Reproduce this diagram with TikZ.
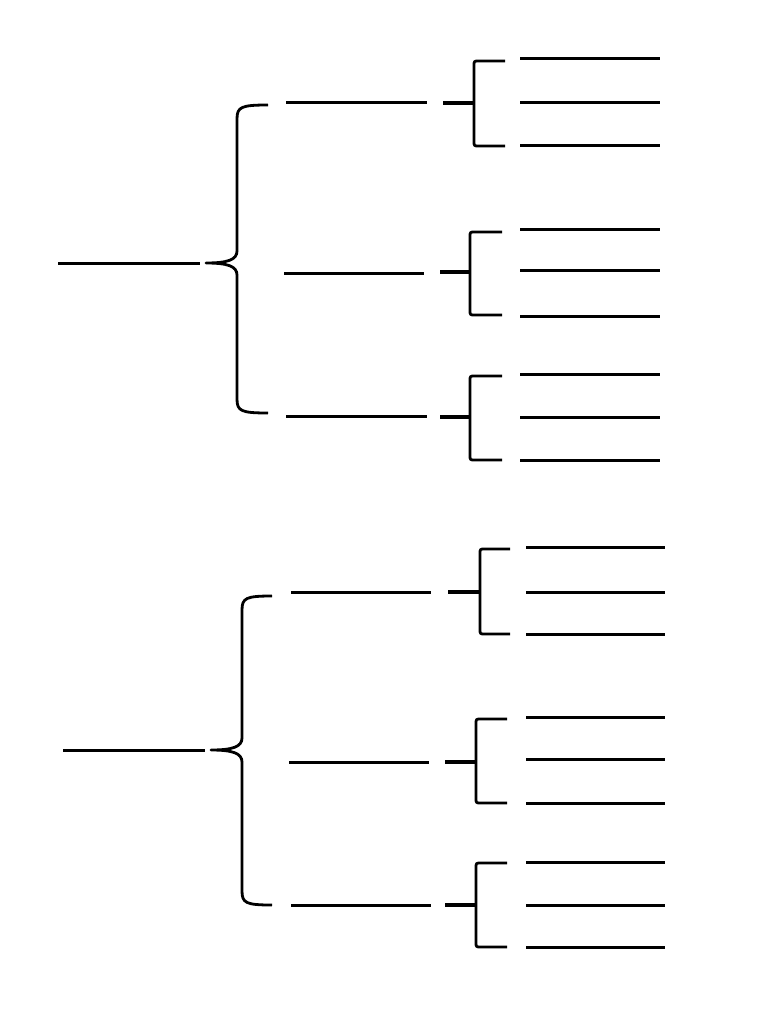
\documentclass[tikz,border=0pt]{standalone}
\tikzset{ln/.style={line width=3pt,line cap=butt},
  br/.style={line width=2.8pt,line join=round},
  stem/.style={line width=3.4pt}}
% big brace: #1 V, #2 T, #3 M, #4 B, #5 arm end x, #6 tip x
\newcommand\bigbr[6]{%
  \draw[br] (#5,#2) .. controls (#1+4,#2) and (#1,#2+2) .. (#1,#2+14) -- (#1,#3-12)
    .. controls (#1,#3-3) and (#1-10,#3) .. (#6,#3) .. controls (#1-10,#3) and (#1,#3+3) .. (#1,#3+12)
    -- (#1,#4-14) .. controls (#1,#4-2) and (#1+4,#4) .. (#5,#4);}
% small brace: #1 V, #2 T, #3 M, #4 B, #5 arm end x, #6 tip x
\newcommand\smbr[6]{%
  \draw[br] (#5,#2) -- (#1+5,#2) .. controls (#1,#2) .. (#1,#2+5) -- (#1,#4-5)
    .. controls (#1,#4) .. (#1+5,#4) -- (#5,#4);
  \draw[stem] (#6,#3) -- (#1,#3);}
\begin{document}
\begin{tikzpicture}[x=1pt,y=-1pt]
\useasboundingbox (0,0) rectangle (768,1024);
% ---------- top group ----------
\coordinate (r1) at (58,263); \coordinate (r1e) at (200,263);
\draw[ln] (r1) -- (r1e);
\bigbr{237}{105}{263}{413}{268}{206}
\coordinate (m1) at (286,103); \coordinate (m1e) at (427,103);
\coordinate (m2) at (284,273); \coordinate (m2e) at (424,273);
\coordinate (m3) at (286,416); \coordinate (m3e) at (427,416);
\draw[ln] (m1) -- (m1e); \draw[ln] (m2) -- (m2e); \draw[ln] (m3) -- (m3e);
\smbr{474}{61}{103}{146}{505}{443}
\smbr{470}{232}{272}{315}{502}{440}
\smbr{470}{376}{417}{460}{502}{440}
\foreach \y in {59,103,146,230,270,316,374,417,460}
  \draw[ln] (520,\y) -- (660,\y);
% ---------- bottom group ----------
\coordinate (r2) at (63,750); \coordinate (r2e) at (205,750);
\draw[ln] (r2) -- (r2e);
\bigbr{242}{596}{750}{905}{272}{211}
\coordinate (n1) at (291,592); \coordinate (n1e) at (431,592);
\coordinate (n2) at (289,762); \coordinate (n2e) at (429,762);
\coordinate (n3) at (291,905); \coordinate (n3e) at (431,905);
\draw[ln] (n1) -- (n1e); \draw[ln] (n2) -- (n2e); \draw[ln] (n3) -- (n3e);
\smbr{480}{549}{592}{634}{510}{448}
\smbr{476}{719}{762}{803}{507}{445}
\smbr{476}{863}{905}{947}{507}{445}
\foreach \y in {547,592,634,717,759,803,862,905,947}
  \draw[ln] (526,\y) -- (665,\y);
\end{tikzpicture}
\end{document}
